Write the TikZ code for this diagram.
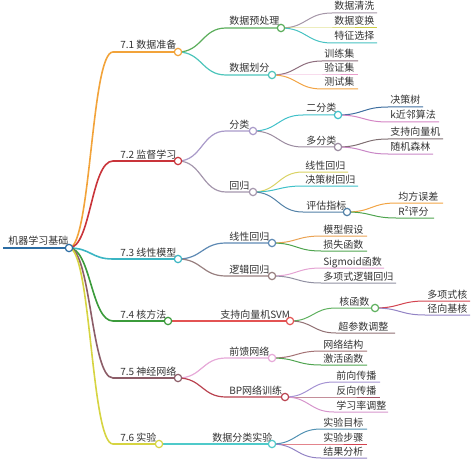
\documentclass[tikz,border=0pt]{standalone}
\usepackage{fontspec}
\setmainfont{Noto Sans CJK SC}
\usetikzlibrary{calc}
\definecolor{txt}{HTML}{333333}
\definecolor{cRoot}{HTML}{2C6DA4}
\definecolor{cA}{HTML}{F2A33A}
\definecolor{cB}{HTML}{C9343A}
\definecolor{cC}{HTML}{3BB5C3}
\definecolor{cD}{HTML}{3B9B3B}
\definecolor{cE}{HTML}{8C5D68}
\definecolor{cF}{HTML}{D6D441}
\definecolor{ca1}{HTML}{5AAD5A}
\definecolor{ca2}{HTML}{4DC5BB}
\definecolor{ca11}{HTML}{A596A8}
\definecolor{ca12}{HTML}{CDCC45}
\definecolor{ca13}{HTML}{47C2C2}
\definecolor{ca21}{HTML}{8E6E7E}
\definecolor{ca22}{HTML}{EA9CCB}
\definecolor{ca23}{HTML}{F2A444}
\definecolor{cb1}{HTML}{A99AC9}
\definecolor{cb2}{HTML}{A597AD}
\definecolor{cb11}{HTML}{3FC0C9}
\definecolor{cb12}{HTML}{9B8BA0}
\definecolor{cb111}{HTML}{3F6FA0}
\definecolor{cb112}{HTML}{D486C4}
\definecolor{cb121}{HTML}{7F6F72}
\definecolor{cb122}{HTML}{C987C6}
\definecolor{cb21}{HTML}{D9D262}
\definecolor{cb22}{HTML}{3FC1C9}
\definecolor{cb23}{HTML}{5180A6}
\definecolor{cb231}{HTML}{F2A444}
\definecolor{cb232}{HTML}{4FA44F}
\definecolor{cc1}{HTML}{5D89B3}
\definecolor{cc2}{HTML}{988080}
\definecolor{cc11}{HTML}{EAA252}
\definecolor{cc12}{HTML}{4FA44F}
\definecolor{cc21}{HTML}{E4A3D3}
\definecolor{cc22}{HTML}{9190A2}
\definecolor{cd1}{HTML}{E35353}
\definecolor{cd11}{HTML}{5FB15F}
\definecolor{cd12}{HTML}{917073}
\definecolor{cd111}{HTML}{D3434F}
\definecolor{cd112}{HTML}{9283C4}
\definecolor{ce1}{HTML}{E6A9D8}
\definecolor{ce2}{HTML}{B9424F}
\definecolor{ce11}{HTML}{A37274}
\definecolor{ce12}{HTML}{4FA44F}
\definecolor{ce21}{HTML}{A593D3}
\definecolor{ce22}{HTML}{A45264}
\definecolor{ce23}{HTML}{D695CC}
\definecolor{cf1}{HTML}{4FCACA}
\definecolor{cf11}{HTML}{5292B3}
\definecolor{cf12}{HTML}{D4424F}
\definecolor{cf13}{HTML}{9283C4}
% #1 text offset, #2 name, #3 parent, #4 start x, #5 end x, #6 y, #7 text, #8 style
\newcommand{\mmb}[8][2]{%
  \coordinate (#2s) at (#4,#6);
  \coordinate (#2) at (#5,#6);
  \draw[#8] (#3) .. controls ($(#3)!.5!(#2s |- #3)$) and ($(#2s)!.5!(#3 |- #2s)$) .. (#2s) -- (#2);
  \node[lbl] (#2t) at ($(#2s)+(#1,-3)$) {#7};
}
\begin{document}
\begin{tikzpicture}[x=0.75pt,y=-0.75pt,
  lbl/.style={font=\fontsize{7.5}{9}\selectfont, text=txt, inner sep=0pt, anchor=base west},
  dot/.style={circle, fill=white, line width=0.9pt, minimum size=5.5pt, inner sep=0pt},
  lv1/.style={line width=1.2pt},
  lv2/.style={line width=0.9pt},
  lv3/.style={line width=0.75pt}]
\useasboundingbox (0,0) rectangle (474,474);
% root
\coordinate (roots) at (3,248);
\coordinate (root) at (69,248);
\draw[line width=2.2pt, cRoot] (roots) -- (root);
\node[lbl] (roott) at (8,244.5) {机器学习基础};
% 7.1
\mmb[7]{a}{root}{113}{178}{52}{7.1 数据准备}{lv1,cA}
\mmb[3]{a1}{a}{226}{281}{28}{数据预处理}{lv2,ca1}
\mmb{a11}{a1}{332}{377}{13}{数据清洗}{lv3,ca11}
\mmb{a12}{a1}{332}{377}{28}{数据变换}{lv3,ca12}
\mmb{a13}{a1}{332}{377}{43}{特征选择}{lv3,ca13}
\mmb[3]{a2}{a}{226}{272}{75}{数据划分}{lv2,ca2}
\mmb{a21}{a2}{322}{358}{61}{训练集}{lv3,ca21}
\mmb{a22}{a2}{322}{358}{75}{验证集}{lv3,ca22}
\mmb{a23}{a2}{322}{358}{89}{测试集}{lv3,ca23}
% 7.2
\mmb[7]{b}{root}{113}{178}{161}{7.2 监督学习}{lv1,cB}
\mmb[3]{b1}{b}{226}{253}{131}{分类}{lv2,cb1}
\mmb[3]{b11}{b1}{303}{338}{115}{二分类}{lv3,cb11}
\mmb{b111}{b11}{388}{423}{107}{决策树}{lv3,cb111}
\mmb{b112}{b11}{388}{439}{122}{k近邻算法}{lv3,cb112}
\mmb[3]{b12}{b1}{303}{338}{147}{多分类}{lv3,cb12}
\mmb{b121}{b12}{388}{443}{139}{支持向量机}{lv3,cb121}
\mmb{b122}{b12}{388}{433}{154}{随机森林}{lv3,cb122}
\mmb[3]{b2}{b}{226}{253}{192}{回归}{lv2,cb2}
\mmb{b21}{b2}{303}{348}{172}{线性回归}{lv3,cb21}
\mmb{b22}{b2}{303}{358}{186}{决策树回归}{lv3,cb22}
\mmb[3]{b23}{b2}{303}{347}{212}{评估指标}{lv3,cb23}
\mmb{b231}{b23}{396}{443}{203}{均方误差}{lv3,cb231}
\mmb{b232}{b23}{396}{434}{218}{R²评分}{lv3,cb232}
% 7.3
\mmb[7]{c}{root}{113}{178}{259}{7.3 线性模型}{lv1,cC}
\mmb[3]{c1}{c}{226}{272}{243}{线性回归}{lv2,cc1}
\mmb{c11}{c1}{321}{367}{236}{模型假设}{lv3,cc11}
\mmb{c12}{c1}{321}{367}{251}{损失函数}{lv3,cc12}
\mmb[3]{c2}{c}{226}{272}{276}{逻辑回归}{lv2,cc2}
\mmb{c21}{c2}{321}{384}{268}{Sigmoid函数}{lv3,cc21}
\mmb{c22}{c2}{321}{396}{283}{多项式逻辑回归}{lv3,cc22}
% 7.4
\mmb[7]{d}{root}{113}{168}{321}{7.4 核方法}{lv1,cD}
\mmb[3]{d1}{d}{217}{290}{321}{支持向量机SVM}{lv2,cd1}
\mmb[3]{d11}{d1}{336}{375}{308}{核函数}{lv3,cd11}
\mmb{d111}{d11}{425}{470}{301}{多项式核}{lv3,cd111}
\mmb{d112}{d11}{425}{470}{315}{径向基核}{lv3,cd112}
\mmb{d12}{d1}{336}{395}{333}{超参数调整}{lv3,cd12}
% 7.5
\mmb[7]{e}{root}{113}{178}{378}{7.5 神经网络}{lv1,cE}
\mmb[3]{e1}{e}{226}{272}{358}{前馈网络}{lv2,ce1}
\mmb{e11}{e1}{321}{367}{351}{网络结构}{lv3,ce11}
\mmb{e12}{e1}{321}{367}{365}{激活函数}{lv3,ce12}
\mmb[3]{e2}{e}{226}{285}{397}{BP网络训练}{lv2,ce2}
\mmb{e21}{e2}{334}{380}{382}{前向传播}{lv3,ce21}
\mmb{e22}{e2}{334}{380}{397}{反向传播}{lv3,ce22}
\mmb{e23}{e2}{334}{388}{412}{学习率调整}{lv3,ce23}
% 7.6
\mmb[7]{f}{root}{113}{159}{444}{7.6 实验}{lv1,cF}
\mmb[3]{f1}{f}{209}{272}{444}{数据分类实验}{lv2,cf1}
\mmb{f11}{f1}{321}{367}{429}{实验目标}{lv3,cf11}
\mmb{f12}{f1}{321}{367}{444}{实验步骤}{lv3,cf12}
\mmb{f13}{f1}{321}{367}{458}{结果分析}{lv3,cf13}
% circles
\foreach \n/\c in {root/cRoot,a/cA,a1/ca1,a2/ca2,b/cB,b1/cb1,b11/cb11,b12/cb12,b2/cb2,b23/cb23,
  c/cC,c1/cc1,c2/cc2,d/cD,d1/cd1,d11/cd11,e/cE,e1/ce1,e2/ce2,f/cF,f1/cf1}
  \node[dot, draw=\c] (\n dot) at (\n) {};
\end{tikzpicture}
\end{document}
